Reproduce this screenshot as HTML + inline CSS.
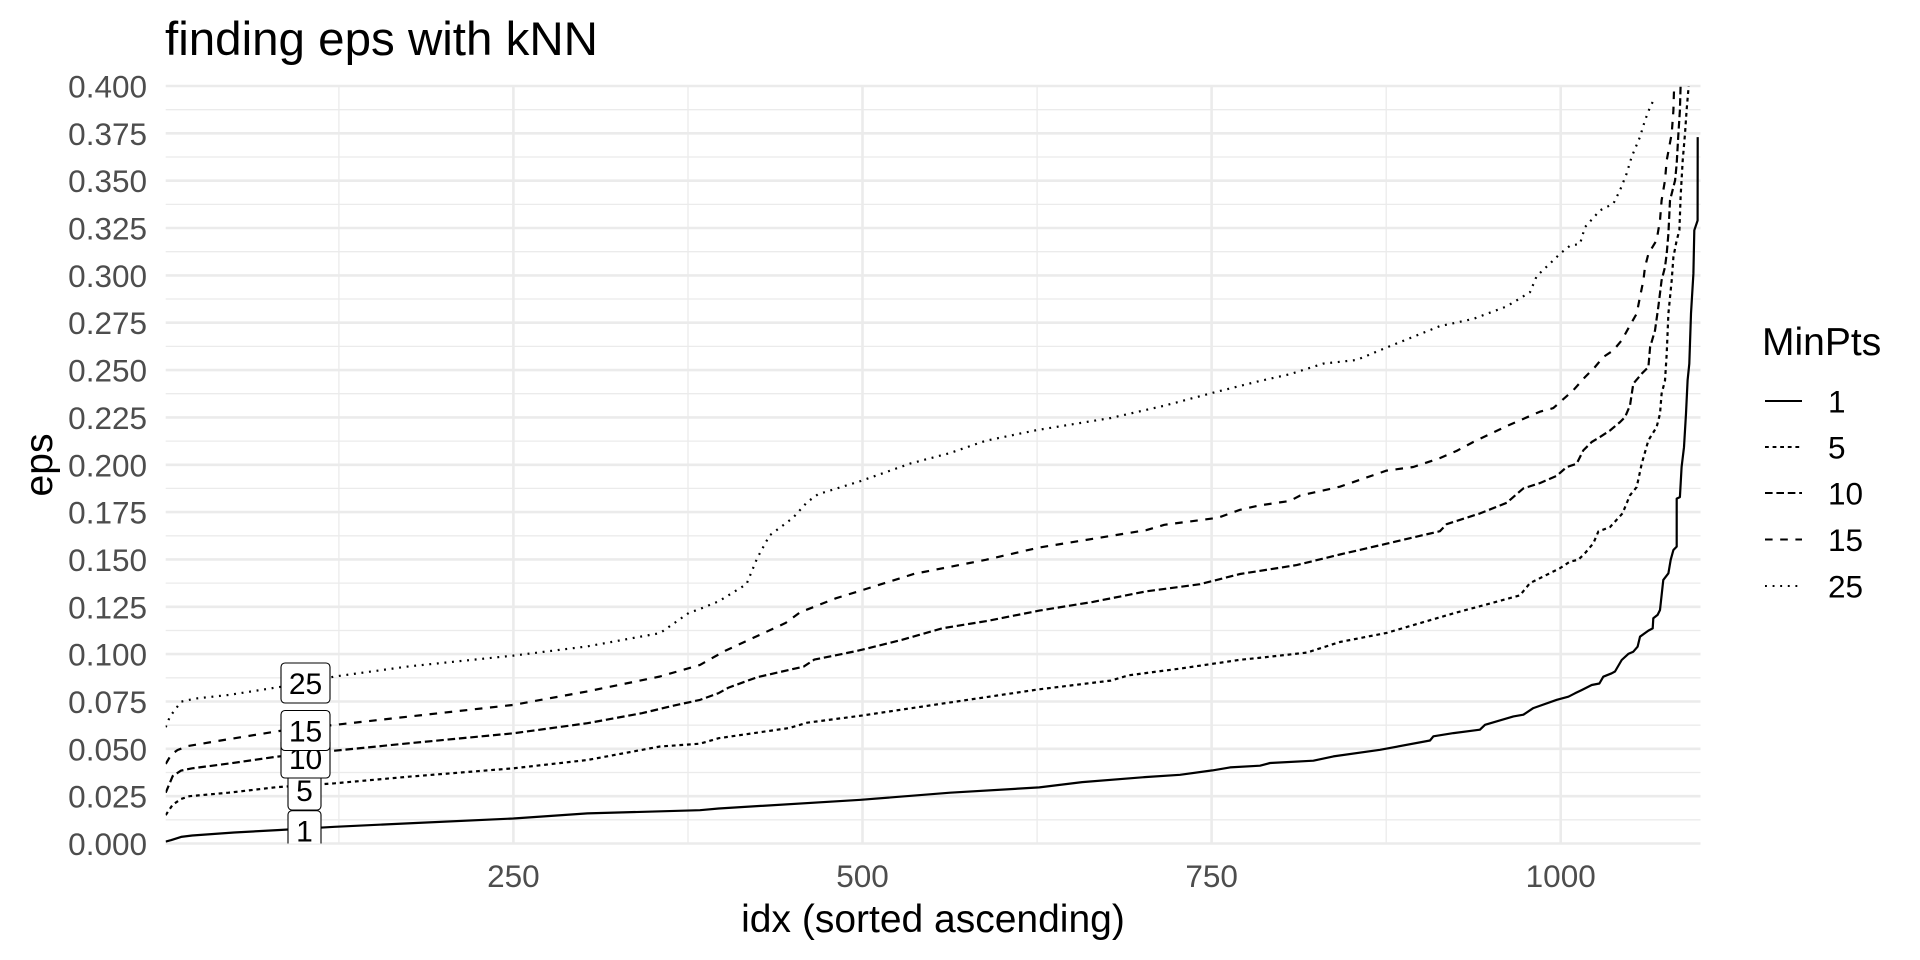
<!DOCTYPE html>
<html>
<head>
<meta charset="utf-8">
<style>
  html, body { margin: 0; padding: 0; background: #ffffff; }
  body { width: 1920px; height: 960px; overflow: hidden; }
  svg { display: block; }
  text { font-family: "Liberation Sans", Arial, sans-serif; }
</style>
</head>
<body>
<svg width="1920" height="960" viewBox="0 0 1920 960" xmlns="http://www.w3.org/2000/svg">
  <rect x="0" y="0" width="1920" height="960" fill="#ffffff"/>
  <defs>
    <clipPath id="panel">
      <rect x="165.7" y="86" width="1534.8" height="757.5"/>
    </clipPath>
  </defs>

  <!-- minor gridlines -->
  <g stroke="#EBEBEB" stroke-width="1.3" fill="none">
    <line x1="165.7" x2="1700.5" y1="819.8" y2="819.8"/>
    <line x1="165.7" x2="1700.5" y1="772.5" y2="772.5"/>
    <line x1="165.7" x2="1700.5" y1="725.2" y2="725.2"/>
    <line x1="165.7" x2="1700.5" y1="677.8" y2="677.8"/>
    <line x1="165.7" x2="1700.5" y1="630.5" y2="630.5"/>
    <line x1="165.7" x2="1700.5" y1="583.1" y2="583.1"/>
    <line x1="165.7" x2="1700.5" y1="535.8" y2="535.8"/>
    <line x1="165.7" x2="1700.5" y1="488.4" y2="488.4"/>
    <line x1="165.7" x2="1700.5" y1="441.1" y2="441.1"/>
    <line x1="165.7" x2="1700.5" y1="393.7" y2="393.7"/>
    <line x1="165.7" x2="1700.5" y1="346.4" y2="346.4"/>
    <line x1="165.7" x2="1700.5" y1="299.0" y2="299.0"/>
    <line x1="165.7" x2="1700.5" y1="251.7" y2="251.7"/>
    <line x1="165.7" x2="1700.5" y1="204.4" y2="204.4"/>
    <line x1="165.7" x2="1700.5" y1="157.0" y2="157.0"/>
    <line x1="165.7" x2="1700.5" y1="109.7" y2="109.7"/>
    <line x1="338.9" x2="338.9" y1="86" y2="843.5"/>
    <line x1="688.0" x2="688.0" y1="86" y2="843.5"/>
    <line x1="1037.1" x2="1037.1" y1="86" y2="843.5"/>
    <line x1="1386.2" x2="1386.2" y1="86" y2="843.5"/>
  </g>
  <!-- major gridlines -->
  <g stroke="#EBEBEB" stroke-width="2.6" fill="none">
    <line x1="165.7" x2="1700.5" y1="843.5" y2="843.5"/>
    <line x1="165.7" x2="1700.5" y1="796.2" y2="796.2"/>
    <line x1="165.7" x2="1700.5" y1="748.8" y2="748.8"/>
    <line x1="165.7" x2="1700.5" y1="701.5" y2="701.5"/>
    <line x1="165.7" x2="1700.5" y1="654.1" y2="654.1"/>
    <line x1="165.7" x2="1700.5" y1="606.8" y2="606.8"/>
    <line x1="165.7" x2="1700.5" y1="559.4" y2="559.4"/>
    <line x1="165.7" x2="1700.5" y1="512.1" y2="512.1"/>
    <line x1="165.7" x2="1700.5" y1="464.8" y2="464.8"/>
    <line x1="165.7" x2="1700.5" y1="417.4" y2="417.4"/>
    <line x1="165.7" x2="1700.5" y1="370.1" y2="370.1"/>
    <line x1="165.7" x2="1700.5" y1="322.7" y2="322.7"/>
    <line x1="165.7" x2="1700.5" y1="275.4" y2="275.4"/>
    <line x1="165.7" x2="1700.5" y1="228.0" y2="228.0"/>
    <line x1="165.7" x2="1700.5" y1="180.7" y2="180.7"/>
    <line x1="165.7" x2="1700.5" y1="133.3" y2="133.3"/>
    <line x1="165.7" x2="1700.5" y1="86.0" y2="86.0"/>
    <line x1="513.4" x2="513.4" y1="86" y2="843.5"/>
    <line x1="862.5" x2="862.5" y1="86" y2="843.5"/>
    <line x1="1211.6" x2="1211.6" y1="86" y2="843.5"/>
    <line x1="1560.7" x2="1560.7" y1="86" y2="843.5"/>
  </g>

  <g clip-path="url(#panel)" fill="none" stroke="#000000" stroke-width="2.2" stroke-linejoin="round" stroke-linecap="butt">
    <!-- MinPts 1: solid -->
    <polyline points="165.7,841.6 171.3,840.1 181.1,836.9 192.2,835.5 234.1,832.5 277.4,830.1 334.7,826.8 415.7,823.0 513.4,818.5 587.4,813.4 700.0,810.2 718.7,808.5 860.8,799.8 950.1,792.7 1039.3,787.4 1082.2,782.1 1146.5,777.0 1180.0,774.8 1212.4,770.4 1230.0,767.4 1260.0,765.7 1270.1,763.0 1313.4,760.7 1333.4,756.4 1380.0,749.8 1430.0,740.5 1433.4,736.3 1453.5,733.1 1479.9,729.7 1485.0,724.8 1513.4,716.4 1523.4,714.7 1533.3,708.1 1556.8,699.8 1568.4,696.7 1575.0,693.3 1581.6,690.1 1591.7,685.0 1599.4,683.5 1603.3,676.7 1611.7,673.3 1615.0,671.5 1621.7,660.0 1628.3,653.9 1633.3,651.7 1637.6,646.7 1640.0,636.7 1648.4,630.6 1652.7,628.4 1653.3,618.3 1657.6,614.9 1660.0,610.0 1663.3,579.9 1668.4,573.3 1670.7,559.8 1673.4,550.0 1676.7,546.6 1676.7,498.6 1679.9,497.1 1681.6,467.0 1684.0,447.1 1686.0,413.6 1687.6,380.3 1689.3,363.8 1691.0,313.6 1693.4,273.7 1694.3,230.3 1697.6,220.5 1697.7,137.1"/>
    <!-- MinPts 5: "22" -->
    <polyline stroke-dasharray="3.8 3.8" points="165.7,815.1 172.7,804.7 181.1,799.0 189.4,796.2 228.5,792.7 277.4,787.1 334.7,783.3 408.7,776.7 513.4,768.3 587.4,760.0 660.0,746.5 700.0,743.7 718.7,738.2 789.3,728.0 807.2,722.7 860.8,715.7 932.2,705.1 1039.3,689.3 1110.8,680.6 1128.7,675.3 1182.1,668.3 1240.0,659.8 1258.9,657.9 1306.7,652.6 1339.9,642.0 1386.6,632.9 1453.3,613.4 1480.0,606.2 1519.9,595.4 1530.0,583.1 1560.0,568.2 1570.1,561.5 1578.3,559.8 1585.0,553.2 1593.4,543.2 1598.4,531.4 1610.0,527.1 1622.5,513.4 1629.9,495.4 1636.7,487.1 1641.7,463.8 1648.4,440.3 1656.6,427.1 1660.0,413.8 1661.6,393.7 1665.0,380.5 1666.7,353.8 1668.4,313.6 1671.7,280.3 1673.4,257.0 1676.7,240.3 1679.4,230.3 1680.6,196.9 1682.7,160.4 1685.0,133.7 1686.6,110.4 1688.3,90.4 1688.6,86.0"/>
    <!-- MinPts 10: "42" -->
    <polyline stroke-dasharray="7.6 3.8" points="165.7,792.7 172.7,776.1 181.1,770.6 192.2,768.3 229.9,763.4 277.4,756.6 334.7,750.7 408.7,743.3 513.4,733.3 587.4,723.2 641.9,713.2 676.8,704.9 700.0,699.9 718.7,693.1 728.6,687.6 757.2,677.2 803.7,666.6 814.3,659.6 857.2,650.9 900.1,640.3 942.8,628.2 985.8,621.2 1039.3,610.6 1092.9,601.9 1146.5,591.3 1200.0,584.2 1240.0,574.0 1296.6,565.1 1339.9,554.5 1386.6,543.7 1439.9,531.2 1446.6,524.2 1480.0,513.4 1506.7,502.8 1523.3,488.4 1539.9,483.1 1556.6,475.9 1566.7,467.0 1576.6,463.8 1583.3,450.4 1591.7,442.0 1599.9,437.1 1610.0,430.5 1620.0,422.1 1625.1,417.0 1630.0,405.5 1633.3,383.7 1641.7,373.7 1648.4,367.0 1650.1,347.1 1655.0,330.5 1658.3,307.0 1661.6,280.3 1665.0,267.0 1666.7,253.8 1668.4,233.7 1670.0,200.4 1675.1,180.3 1676.7,163.6 1678.4,133.7 1679.9,110.4 1680.6,86.0"/>
    <!-- MinPts 15: "44" -->
    <polyline stroke-dasharray="7.6 7.6" points="165.7,764.0 171.3,754.5 177.6,750.0 188.0,746.0 228.5,739.2 283.0,730.4 334.7,724.9 408.7,716.6 513.4,704.9 587.4,691.4 660.0,676.5 694.9,666.4 700.0,664.9 725.0,650.9 785.7,622.9 800.1,612.3 835.8,598.3 864.3,589.5 914.3,573.8 950.1,566.8 985.8,559.8 1039.3,547.5 1092.9,538.8 1146.5,530.1 1164.3,524.8 1217.9,517.8 1240.0,509.8 1258.9,505.5 1290.0,500.9 1300.0,495.6 1339.9,486.7 1386.6,470.6 1413.3,467.0 1439.9,458.1 1456.7,450.9 1473.3,442.0 1506.7,426.1 1539.9,411.7 1553.3,408.1 1560.0,402.1 1573.3,390.3 1585.0,377.1 1595.0,367.0 1603.3,357.0 1613.3,350.4 1621.7,340.3 1630.0,325.4 1636.7,313.6 1639.3,300.4 1643.4,280.3 1645.0,267.0 1648.4,253.8 1656.6,240.3 1660.0,220.4 1661.6,200.4 1665.0,180.3 1666.7,160.4 1671.7,133.7 1673.4,110.4 1673.9,93.5 1674.3,86.0"/>
    <!-- MinPts 25: "13" -->
    <polyline stroke-dasharray="1.9 5.7" points="165.7,727.2 169.9,716.6 181.1,701.7 195.0,698.6 228.5,695.0 281.6,686.7 303.9,683.1 334.7,676.5 408.7,666.4 513.4,655.6 587.4,646.4 660.0,633.1 688.7,613.0 700.0,608.9 718.7,601.3 746.5,584.2 757.2,558.1 769.6,535.4 793.0,517.8 807.2,502.1 817.9,494.3 860.8,481.0 910.7,463.4 950.1,453.0 985.8,440.7 1035.8,430.3 1110.8,418.0 1164.3,405.7 1214.3,392.4 1258.9,381.2 1290.0,374.2 1323.3,363.6 1356.6,360.0 1386.6,347.5 1439.9,326.1 1473.3,318.9 1506.7,306.4 1530.0,292.2 1536.7,276.1 1549.9,263.6 1560.0,253.8 1569.9,245.8 1580.0,243.8 1585.0,227.1 1600.0,210.4 1613.4,203.6 1620.0,190.3 1626.6,173.7 1631.6,157.0 1640.0,136.9 1645.0,120.3 1650.1,107.0 1654.4,98.7"/>
  </g>

  <!-- line labels -->
  <g clip-path="url(#panel)">
    <rect x="288" y="810.7" width="33" height="40" rx="4" stroke="#000" stroke-width="1.1" fill="#fff"/>
    <text x="304.5" y="841.5" font-size="30" text-anchor="middle" fill="#000">1</text>
    <rect x="288" y="770" width="33" height="40" rx="4" stroke="#000" stroke-width="1.1" fill="#fff"/>
    <text x="304.5" y="800.8" font-size="30" text-anchor="middle" fill="#000">5</text>
    <rect x="281" y="738" width="49" height="40" rx="4" stroke="#000" stroke-width="1.1" fill="#fff"/>
    <text x="305.5" y="768.8" font-size="30" text-anchor="middle" fill="#000">10</text>
    <rect x="281" y="710.5" width="49" height="40" rx="4" stroke="#000" stroke-width="1.1" fill="#fff"/>
    <text x="305.5" y="741.3" font-size="30" text-anchor="middle" fill="#000">15</text>
    <rect x="281" y="663" width="49" height="40" rx="4" stroke="#000" stroke-width="1.1" fill="#fff"/>
    <text x="305.5" y="693.8" font-size="30" text-anchor="middle" fill="#000">25</text>
  </g>

  <!-- title -->
  <text x="165" y="55" font-size="47.5" fill="#000000">finding eps with kNN</text>

  <!-- y tick labels -->
  <g font-size="31.5" fill="#4D4D4D" text-anchor="end">
    <text x="147" y="855.0">0.000</text>
    <text x="147" y="807.7">0.025</text>
    <text x="147" y="760.3">0.050</text>
    <text x="147" y="713.0">0.075</text>
    <text x="147" y="665.6">0.100</text>
    <text x="147" y="618.3">0.125</text>
    <text x="147" y="570.9">0.150</text>
    <text x="147" y="523.6">0.175</text>
    <text x="147" y="476.3">0.200</text>
    <text x="147" y="428.9">0.225</text>
    <text x="147" y="381.6">0.250</text>
    <text x="147" y="334.2">0.275</text>
    <text x="147" y="286.9">0.300</text>
    <text x="147" y="239.5">0.325</text>
    <text x="147" y="192.2">0.350</text>
    <text x="147" y="144.8">0.375</text>
    <text x="147" y="97.5">0.400</text>
  </g>

  <!-- x tick labels -->
  <g font-size="31.5" fill="#4D4D4D" text-anchor="middle">
    <text x="513.4" y="887">250</text>
    <text x="862.5" y="887">500</text>
    <text x="1211.6" y="887">750</text>
    <text x="1560.7" y="887">1000</text>
  </g>

  <!-- axis titles -->
  <text x="933" y="932" font-size="39" text-anchor="middle" fill="#000000">idx (sorted ascending)</text>
  <text transform="translate(52,465) rotate(-90)" font-size="39" text-anchor="middle" fill="#000000">eps</text>

  <!-- legend -->
  <text x="1762" y="355" font-size="39" fill="#000000">MinPts</text>
  <g stroke="#000000" stroke-width="2" fill="none" stroke-linecap="butt">
    <line x1="1765" x2="1802" y1="401" y2="401"/>
    <line x1="1765" x2="1802" y1="447" y2="447" stroke-dasharray="3.8 3.8"/>
    <line x1="1765" x2="1802" y1="493" y2="493" stroke-dasharray="7.6 3.8"/>
    <line x1="1765" x2="1802" y1="539.5" y2="539.5" stroke-dasharray="7.6 7.6"/>
    <line x1="1765" x2="1802" y1="586" y2="586" stroke-dasharray="1.9 5.7"/>
  </g>
  <g font-size="31.5" fill="#000000">
    <text x="1828" y="412.3">1</text>
    <text x="1828" y="458.3">5</text>
    <text x="1828" y="504.3">10</text>
    <text x="1828" y="550.8">15</text>
    <text x="1828" y="597.3">25</text>
  </g>
</svg>
</body>
</html>
